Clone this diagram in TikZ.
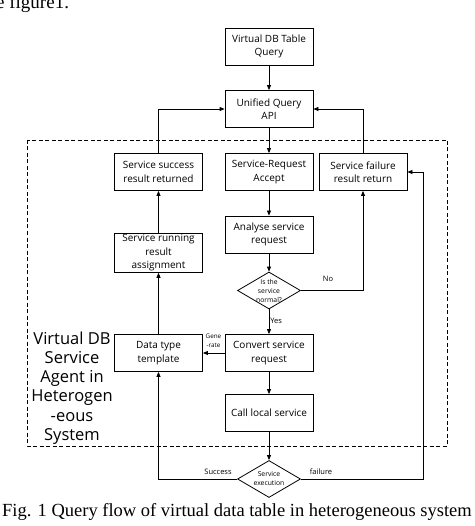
\documentclass[tikz,border=0pt]{standalone}
\usepackage{fontspec}
\setmainfont{Liberation Serif}
\setsansfont{Open Sans}
\usetikzlibrary{shapes.geometric,arrows.meta,calc}
\begin{document}
\begin{tikzpicture}[x=1pt,y=-1pt,
  box/.style={draw,line width=0.8pt,minimum width=88pt,minimum height=37pt,inner sep=1pt,align=center,font=\sffamily\fontsize{10}{13.5}\selectfont},
  dia/.style={draw,line width=0.8pt,diamond,aspect=1.7,minimum width=63pt,minimum height=37pt,inner sep=0pt},
  diatext/.style={align=center,font=\sffamily\fontsize{6.8}{9}\selectfont,inner sep=0pt},
  lbl/.style={font=\sffamily\fontsize{7.5}{8}\selectfont,inner sep=1pt},
  arr/.style={line width=0.8pt,-{Triangle[length=5pt,width=4pt]}},
  ln/.style={line width=0.8pt}]
\clip (0,0) rectangle (474,526);
\useasboundingbox (0,0) rectangle (474,526);
\node[anchor=base west,inner sep=0pt,font=\fontsize{19}{20}\selectfont] (top) at (-4,9) {e figure1.};
\draw[line width=0.8pt,dash pattern=on 4pt off 2.5pt] (27,140) rectangle (447,446);
\node[box] (vq) at (269,46.5) {Virtual DB Table\\Query};
\node[box] (uq) at (269,109) {Unified Query\\API};
\node[box] (ss) at (158.5,172) {Service success\\result returned};
\node[box] (sra) at (269,172) {Service-Request\\Accept};
\node[box] (sf) at (363,172) {Service failure\\result return};
\node[box] (asr) at (269,234.5) {Analyse service\\request};
\node[box] (srr) at (158.5,253) {Service running\\result\\assignment};
\node[dia] (d1) at (269,290.5) {};
\node[diatext] at (d1) {Is the\\service\\normal?};
\node[box] (dt) at (158.5,353) {Data type\\template};
\node[box] (csr) at (269,353) {Convert service\\request};
\node[box] (cls) at (269,413) {Call local service};
\node[dia] (d2) at (269,479) {};
\node[diatext] at (d2) {Service\\execution};
\coordinate (rt) at (423,172);
\node[align=center,font=\sffamily\fontsize{16.5}{19.2}\selectfont,inner sep=0pt] (agent) at (72,388) {Virtual DB\\Service\\Agent in\\Heterogen\\-eous\\System};
\draw[arr] (vq.south) -- (uq.north);
\draw[arr] (uq.south) -- (sra.north);
\draw[arr] (sra.south) -- (asr.north);
\draw[arr] (asr.south) -- (d1.north);
\draw[arr] (d1.south) -- node[lbl,right,pos=0.45] {Yes} (csr.north);
\draw[arr] (csr.west) -- (dt.east);
\node[lbl,align=center,font=\sffamily\fontsize{6.3}{9}\selectfont] (gen) at (213.5,341) {Gene\\-rate};
\draw[arr] (csr.south) -- (cls.north);
\draw[arr] (cls.south) -- (d2.north);
\draw[arr] (d2.west) -| (dt.south);
\node[lbl] (succ) at (218,472) {Success};
\draw[arr] (dt.north) -- (srr.south);
\draw[arr] (srr.north) -- (ss.south);
\draw[arr] (ss.north) |- (uq.west);
\draw[arr] (d1.east) -| (sf.south);
\node[lbl] (no) at (328,279) {No};
\draw[arr] (d2.east) -| (rt) -- (sf.east);
\node[lbl] (fail) at (321,472) {failure};
\draw[arr] (sf.north) |- (uq.east);
\node[anchor=base,inner sep=0pt,font=\fontsize{18.5}{20}\selectfont] (cap) at (237,516) {Fig. 1 Query flow of virtual data table in heterogeneous system};
\end{tikzpicture}
\end{document}
